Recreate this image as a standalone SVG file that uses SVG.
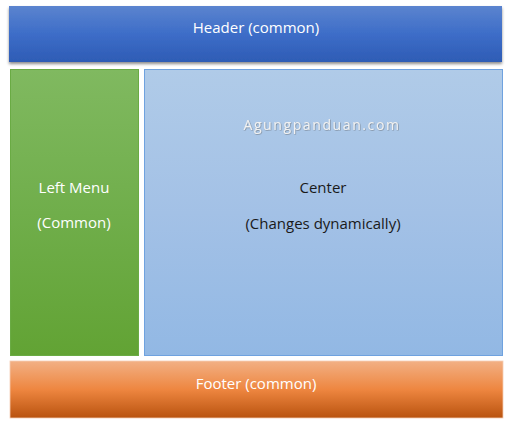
<svg xmlns="http://www.w3.org/2000/svg" width="512" height="424" viewBox="0 0 512 424">
<defs>
<linearGradient id="gHead" x1="0" y1="0" x2="0" y2="1"><stop offset="0" stop-color="#5b84cf"/><stop offset="0.5" stop-color="#3d6dc8"/><stop offset="1" stop-color="#2e5cb5"/></linearGradient>
<linearGradient id="gLeft" x1="0" y1="0" x2="0" y2="1"><stop offset="0" stop-color="#80b960"/><stop offset="0.5" stop-color="#70ae4b"/><stop offset="1" stop-color="#62a334"/></linearGradient>
<linearGradient id="gCenter" x1="0" y1="0" x2="0" y2="1"><stop offset="0" stop-color="#b0cbe8"/><stop offset="0.5" stop-color="#a3c1e6"/><stop offset="1" stop-color="#92b8e4"/></linearGradient>
<linearGradient id="gFoot" x1="0" y1="0" x2="0" y2="1"><stop offset="0" stop-color="#f2b084"/><stop offset="0.5" stop-color="#ee8640"/><stop offset="1" stop-color="#b9530f"/></linearGradient>
<filter id="sh" x="-5%" y="-20%" width="110%" height="150%"><feDropShadow dx="0" dy="2" stdDeviation="1.5" flood-color="#000" flood-opacity="0.45"/></filter>
<filter id="tsh"><feDropShadow dx="0.6" dy="0.6" stdDeviation="0.4" flood-color="#555" flood-opacity="0.6"/></filter>
</defs>
<style>
text{font-family:"Open Sans","Liberation Sans",sans-serif;font-size:15px;text-anchor:middle}
.w{fill:#ffffff}
.d{fill:#1a1a1a}
</style>
<rect width="512" height="424" fill="#ffffff"/>
<g id="header">
<rect x="9" y="6" width="493" height="56" fill="url(#gHead)" filter="url(#sh)"/>
<text class="w" x="256" y="33">Header (common)</text>
</g>
<g id="left-menu">
<rect x="10.5" y="69.5" width="128" height="286" fill="url(#gLeft)" stroke="#6aab44" stroke-width="1"/>
<text class="w" x="74" y="193">Left Menu</text>
<text class="w" x="74" y="228">(Common)</text>
</g>
<g id="center">
<rect x="144.5" y="69.5" width="358" height="286" fill="url(#gCenter)" stroke="#6fa2df" stroke-width="1"/>
<text x="322" y="130" fill="#f2f2f2" style="font-size:14px;letter-spacing:1.6px" filter="url(#tsh)">Agungpanduan.com</text>
<text class="d" x="323" y="193">Center</text>
<text class="d" x="323" y="229">(Changes dynamically)</text>
</g>
<g id="footer">
<rect x="10" y="361" width="493" height="57" fill="url(#gFoot)" stroke="#f4cdb4" stroke-width="0.8"/>
<text class="w" x="256" y="389">Footer (common)</text>
</g>
<g id="connectors"/>
</svg>
